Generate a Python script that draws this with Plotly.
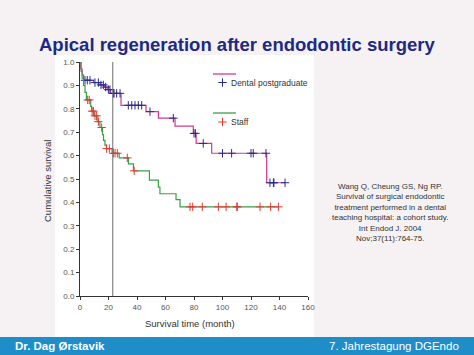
import numpy as np
import plotly.graph_objects as go

# ---------------- data ----------------
dp_event_t = [0.5, 1.5, 2.5, 9.5, 14.0, 17.0, 19.0, 21.5, 28.8, 46.3, 55.0, 66.7, 79.5, 81.5, 92.4, 131.0]
dp_event_s = [0.97, 0.945, 0.922, 0.912, 0.902, 0.893, 0.882, 0.866, 0.815, 0.788, 0.760, 0.726, 0.695, 0.652, 0.610, 0.484]
dp_censor_t = [3.5, 5.1, 7.0, 10.5, 12.9, 14.7, 16.4, 18.0, 19.9, 21.0, 23.4, 23.9, 25.7, 28.1,
               33.9, 36.3, 38.6, 40.9, 43.3, 49.1, 65.5, 80.0, 81.0, 86.5, 100.0, 106.4,
               120.0, 121.6, 130.5, 133.3, 135.7, 136.1, 143.9]

st_event_t = [0.8, 1.5, 2.5, 3.5, 4.5, 7.5, 8.2, 10.0, 12.0, 14.0, 15.8, 16.5, 17.5, 18.5,
              22.5, 27.5, 34.0, 37.5, 48.7, 55.0, 56.1, 67.4, 70.2]
st_event_s = [0.96, 0.93, 0.90, 0.87, 0.838, 0.81, 0.79, 0.77, 0.745, 0.72, 0.69, 0.665, 0.645, 0.63,
              0.61, 0.59, 0.565, 0.535, 0.495, 0.465, 0.437, 0.412, 0.381]
st_censor_t = [5.4, 6.5, 8.5, 9.4, 10.5, 11.7, 12.9, 15.2, 18.7, 20.6, 23.4, 24.6, 26.2, 33.2, 38.0,
               77.2, 79.1, 85.8, 97.1, 102.5, 110.0, 110.4, 126.3, 133.8, 139.2]

ref_month = 23
x_ticks = list(range(0, 161, 20))
y_ticks = [round(0.1 * i, 1) for i in range(11)]

series_names = ["Dental postgraduate", "Staff"]
line_colors = ["#d6388c", "#3b9e4a"]
mark_colors = ["#2b2a8c", "#e23a32"]

title_text = "Apical regeneration after endodontic surgery"
citation = ["Wang Q, Cheung GS, Ng RP.", "Survival of surgical endodontic",
            "treatment performed in a dental", "teaching hospital: a cohort study.",
            "Int Endod J. 2004", "Nov;37(11):764-75."]
footer_left = "Dr. Dag Ørstavik"
footer_right = "7. Jahrestagung DGEndo"

# ---------------- helpers ----------------
W, H = 474, 355
ML, MR, MT, MB = 80, 166, 62, 59
PW, PH = W - ML - MR, H - MT - MB


def px(x):
    return (x - ML) / PW


def py(y):
    return (H - MB - y) / PH


def km_curve(et, es, last):
    xs = [0.0] + list(et) + [last]
    ys = [1.0] + list(es) + [es[-1]]
    return xs, ys


def surv_at(t, et, es):
    et = np.asarray(et)
    es = np.asarray(es)
    idx = np.searchsorted(et, t, side="right") - 1
    return np.where(idx < 0, 1.0, es[np.clip(idx, 0, None)])


FONT = "Liberation Sans, Arial, sans-serif"
fig = go.Figure()

groups = [(dp_event_t, dp_event_s, dp_censor_t), (st_event_t, st_event_s, st_censor_t)]
for i, (et, es, ct) in enumerate(groups):
    xs, ys = km_curve(et, es, max(ct))
    fig.add_trace(go.Scatter(x=xs, y=ys, mode="lines", line=dict(color=line_colors[i], width=1.2, shape="hv"),
                             showlegend=False, hoverinfo="skip"))
    fig.add_trace(go.Scatter(x=ct, y=surv_at(ct, et, es), mode="markers",
                             marker=dict(symbol="cross-thin", size=6, line=dict(color=mark_colors[i], width=1)),
                             showlegend=False, hoverinfo="skip"))

shapes = []
# slide background panel (white chart area)
shapes.append(dict(type="rect", xref="paper", yref="paper", x0=px(55), x1=px(314), y0=py(338), y1=py(55),
                   fillcolor="white", line=dict(width=0), layer="below"))
# footer bar
shapes.append(dict(type="rect", xref="paper", yref="paper", x0=px(0), x1=px(W), y0=py(H), y1=py(337),
                   fillcolor="#1f8dc8", line=dict(width=0), layer="above"))
# reference vertical line
shapes.append(dict(type="line", xref="x", yref="y", x0=ref_month, x1=ref_month, y0=0, y1=1.0,
                   line=dict(color="#6e6e6e", width=1)))
# legend line segments
for i, ly in enumerate([74, 113]):
    shapes.append(dict(type="line", xref="paper", yref="paper", x0=px(213), x1=px(236), y0=py(ly), y1=py(ly),
                       line=dict(color=line_colors[i], width=1.3)))

annotations = []
annotations.append(dict(text="<b>" + title_text + "</b>", xref="paper", yref="paper", x=px(236.5), y=py(44),
                        xanchor="center", yanchor="middle", showarrow=False,
                        font=dict(family=FONT, size=18.5, color="#1b2a86")))
for i, ly in enumerate([83, 122]):
    annotations.append(dict(text=series_names[i], xref="paper", yref="paper", x=px(229), y=py(ly),
                            xanchor="left", yanchor="middle", showarrow=False,
                            font=dict(family=FONT, size=8.5, color="#333333")))
annotations.append(dict(text="<br>".join(citation), xref="paper", yref="paper", x=px(390), y=py(213),
                        xanchor="center", yanchor="middle", align="center", showarrow=False,
                        font=dict(family=FONT, size=8, color="#333333")))
annotations.append(dict(text="Cumulative survival", xref="paper", yref="paper", x=px(47), y=py(181),
                        xanchor="center", yanchor="middle", textangle=-90, showarrow=False,
                        font=dict(family=FONT, size=9.5, color="#333333")))
annotations.append(dict(text="Survival time (month)", xref="paper", yref="paper", x=px(190), y=py(323),
                        xanchor="center", yanchor="middle", showarrow=False,
                        font=dict(family=FONT, size=9.5, color="#333333")))
annotations.append(dict(text="<b>" + footer_left + "</b>", xref="paper", yref="paper", x=px(13), y=py(346),
                        xanchor="left", yanchor="middle", showarrow=False,
                        font=dict(family=FONT, size=11.5, color="white")))
annotations.append(dict(text=footer_right, xref="paper", yref="paper", x=px(461), y=py(346),
                        xanchor="right", yanchor="middle", showarrow=False,
                        font=dict(family=FONT, size=11.5, color="white")))

# legend cross markers
fig.add_trace(go.Scatter(x=[px(222.5), px(222.5)], y=[py(82.5), py(122)], xaxis="x2", yaxis="y2", mode="markers",
                         marker=dict(symbol="cross-thin", size=6, line=dict(color=mark_colors, width=1)),
                         showlegend=False, hoverinfo="skip"))

fig.update_layout(
    width=W, height=H,
    margin=dict(l=ML, r=MR, t=MT, b=MB),
    paper_bgcolor="#f6f1f3",
    plot_bgcolor="white",
    font=dict(family=FONT, size=8, color="#444444"),
    shapes=shapes,
    annotations=annotations,
    xaxis=dict(range=[0, 160], tickvals=x_ticks, showgrid=False, zeroline=False,
               showline=True, linecolor="#333333", linewidth=1, ticks="outside", ticklen=3,
               tickcolor="#333333", tickfont=dict(size=8, color="#555555")),
    yaxis=dict(range=[0, 1.0], tickvals=y_ticks, tickformat=".1f", showgrid=False, zeroline=False,
               showline=True, linecolor="#333333", linewidth=1, ticks="outside", ticklen=3,
               tickcolor="#333333", tickfont=dict(size=8, color="#555555")),
    xaxis2=dict(range=[0, 1], domain=[0, 1], overlaying="x", visible=False, fixedrange=True),
    yaxis2=dict(range=[0, 1], domain=[0, 1], overlaying="y", visible=False, fixedrange=True),
)

fig.write_html("out.html", config={"displayModeBar": False},
               post_script="document.body.style.margin='0';document.body.style.overflow='hidden';")
